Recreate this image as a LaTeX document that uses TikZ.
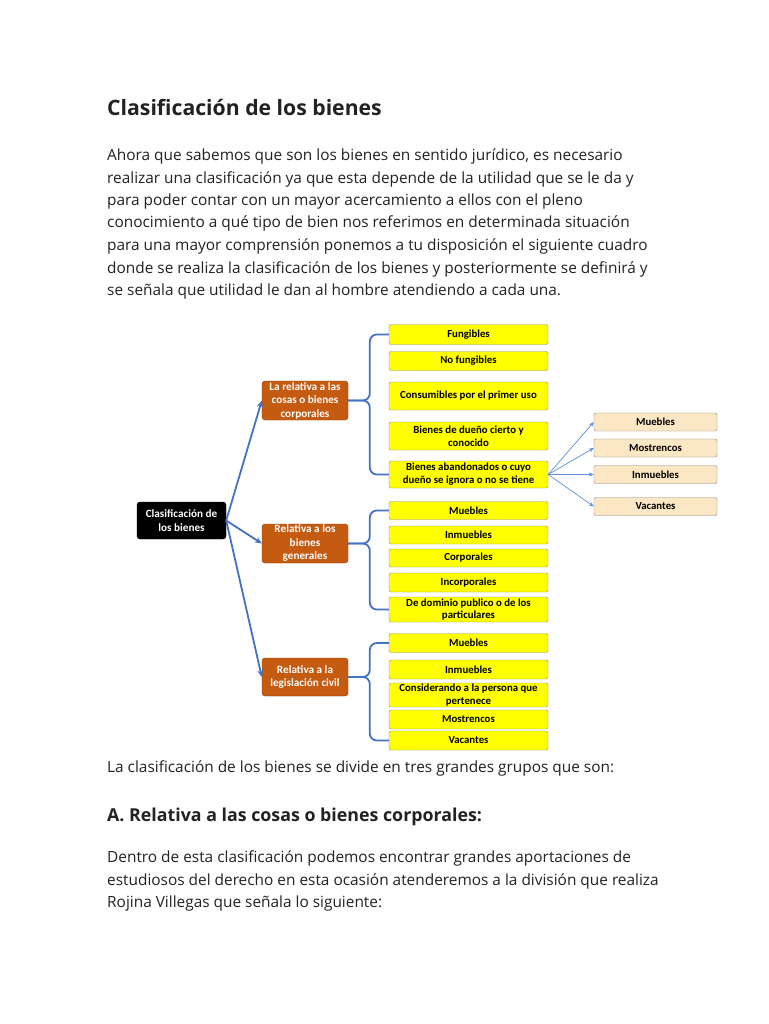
\documentclass[tikz,border=0pt]{standalone}
\usepackage{fontspec}
\setmainfont{Open Sans}
\newfontfamily\diag{Carlito}
\usetikzlibrary{calc,arrows.meta}
\definecolor{txt}{HTML}{222222}
\definecolor{orng}{HTML}{C55A11}
\definecolor{orngd}{HTML}{8E3E0A}
\definecolor{yel}{HTML}{FFFF00}
\definecolor{yelb}{HTML}{8C8C7A}
\definecolor{peach}{HTML}{FCE7C4}
\definecolor{peachb}{HTML}{8C8272}
\definecolor{blu}{HTML}{4472C4}
\definecolor{blul}{HTML}{5B8FDC}
\tikzset{
  body/.style={anchor=base west, inner sep=0pt, text=txt, font=\fontsize{15.4}{18}\selectfont},
  ttl/.style={anchor=base west, inner sep=0pt, text=txt, font=\fontsize{21.2}{24}\selectfont\bfseries},
  hdg/.style={anchor=base west, inner sep=0pt, text=txt, font=\fontsize{17.8}{22}\selectfont\bfseries},
  rootbox/.style={draw=black, fill=black, rounded corners=3pt, text=white, align=center,
    font=\diag\bfseries\fontsize{11.2}{13.5}\selectfont, minimum width=89pt, minimum height=37pt, inner sep=1pt},
  obox/.style={draw=orngd, fill=orng, rounded corners=3pt, text=white, align=center,
    font=\diag\bfseries\fontsize{11.2}{13.5}\selectfont, minimum width=86pt, inner sep=1pt},
  ybox/.style={draw=yelb, fill=yel, rounded corners=2pt, text=black, align=center,
    font=\diag\bfseries\fontsize{10.8}{12.8}\selectfont, minimum width=159pt, inner sep=0.3pt},
  pbox/.style={draw=peachb, fill=peach, rounded corners=2pt, text=black, align=center,
    font=\diag\bfseries\fontsize{10.8}{12}\selectfont, minimum width=123pt, minimum height=18pt, inner sep=0.5pt},
  conn/.style={draw=blu, line width=1.8pt, -{Stealth[length=7pt,width=6pt]}},
  brc/.style={draw=blu, line width=1.8pt, rounded corners=7pt},
  thin/.style={draw=blul, line width=0.7pt, -{Stealth[length=5pt,width=4pt]}}
}
\begin{document}
\begin{tikzpicture}[x=1pt,y=-1pt]
\useasboundingbox[fill=white] (0,0) rectangle (768,1024);
% text
\node[ttl] (title) at (107,116) {Clasificación de los bienes};
\node[body] (l1) at (107,161) {Ahora que sabemos que son los bienes en sentido jurídico, es necesario};
\node[body] (l2) at (107,184) {realizar una clasificación ya que esta depende de la utilidad que se le da y};
\node[body] (l3) at (107,206) {para poder contar con un mayor acercamiento a ellos con el pleno};
\node[body] (l4) at (107,228) {conocimiento a qué tipo de bien nos referimos en determinada situación};
\node[body] (l5) at (107,251) {para una mayor comprensión ponemos a tu disposición el siguiente cuadro};
\node[body] (l6) at (107,273) {donde se realiza la clasificación de los bienes y posteriormente se definirá y};
\node[body] (l7) at (107,295) {se señala que utilidad le dan al hombre atendiendo a cada una.};
\node[body] (m1) at (107,772) {La clasificación de los bienes se divide en tres grandes grupos que son:};
\node[hdg] (h2) at (107,821) {A. Relativa a las cosas o bienes corporales:};
\node[body] (p1) at (107,862) {Dentro de esta clasificación podemos encontrar grandes aportaciones de};
\node[body] (p2) at (107,885) {estudiosos del derecho en esta ocasión atenderemos a la división que realiza};
\node[body] (p3) at (107,907) {Rojina Villegas que señala lo siguiente:};
% diagram
\node[rootbox] (root) at (181.5,520.5) {Clasificación de\\los bienes};
\node[obox, minimum height=39pt] (A) at (305,400.5) {La relativa a las\\cosas o bienes\\corporales};
\node[obox, minimum height=39pt] (B) at (305,543.5) {Relativa a los\\bienes\\generales};
\node[obox, minimum height=38pt] (C) at (305,677) {Relativa a la\\legislación civil};
% group A
\node[ybox, minimum height=20pt] (a1) at (468.5,334.5) {Fungibles};
\node[ybox, minimum height=19pt] (a2) at (468.5,361) {No fungibles};
\node[ybox, minimum height=28pt] (a3) at (468.5,396) {Consumibles por el primer uso};
\node[ybox, minimum height=28pt] (a4) at (468.5,436) {Bienes de dueño cierto y\\conocido};
\node[ybox, minimum height=27pt] (a5) at (468.5,474.5) {Bienes abandonados o cuyo\\dueño se ignora o no se tiene};
% group B
\node[ybox, minimum height=18pt] (b1) at (468.5,510.5) {Muebles};
\node[ybox, minimum height=18pt] (b2) at (468.5,535) {Inmuebles};
\node[ybox, minimum height=18pt] (b3) at (468.5,558) {Corporales};
\node[ybox, minimum height=19pt] (b4) at (468.5,582.5) {Incorporales};
\node[ybox, minimum height=25pt] (b5) at (468.5,609.5) {De dominio publico o de los\\particulares};
% group C
\node[ybox, minimum height=19pt] (c1) at (468.5,643) {Muebles};
\node[ybox, minimum height=19pt] (c2) at (468.5,669.5) {Inmuebles};
\node[ybox, minimum height=24pt] (c3) at (468.5,695) {Considerando a la persona que\\pertenece};
\node[ybox, minimum height=19pt] (c4) at (468.5,719.5) {Mostrencos};
\node[ybox, minimum height=19pt] (c5) at (468.5,740.5) {Vacantes};
% right group
\node[pbox] (r1) at (655.5,422) {Muebles};
\node[pbox] (r2) at (655.5,448) {Mostrencos};
\node[pbox] (r3) at (655.5,474.5) {Inmuebles};
\node[pbox] (r4) at (655.5,506.5) {Vacantes};
% connectors
\draw[conn] (root.east) -- (A.west);
\draw[conn] (root.east) -- (B.west);
\draw[conn] (root.east) -- (C.west);
\foreach \g/\t/\b in {A/a1/a5, B/b1/b5, C/c1/c5}{
  \draw[brc] (\g.east) -| ($(\t.west)+(-19,0)$) -- (\t.west);
  \draw[brc] (\g.east) -| ($(\b.west)+(-19,0)$) -- (\b.west);
}
\foreach \r in {r1,r2,r3,r4}{\draw[thin] (a5.east) -- (\r.west);}
\end{tikzpicture}
\end{document}
